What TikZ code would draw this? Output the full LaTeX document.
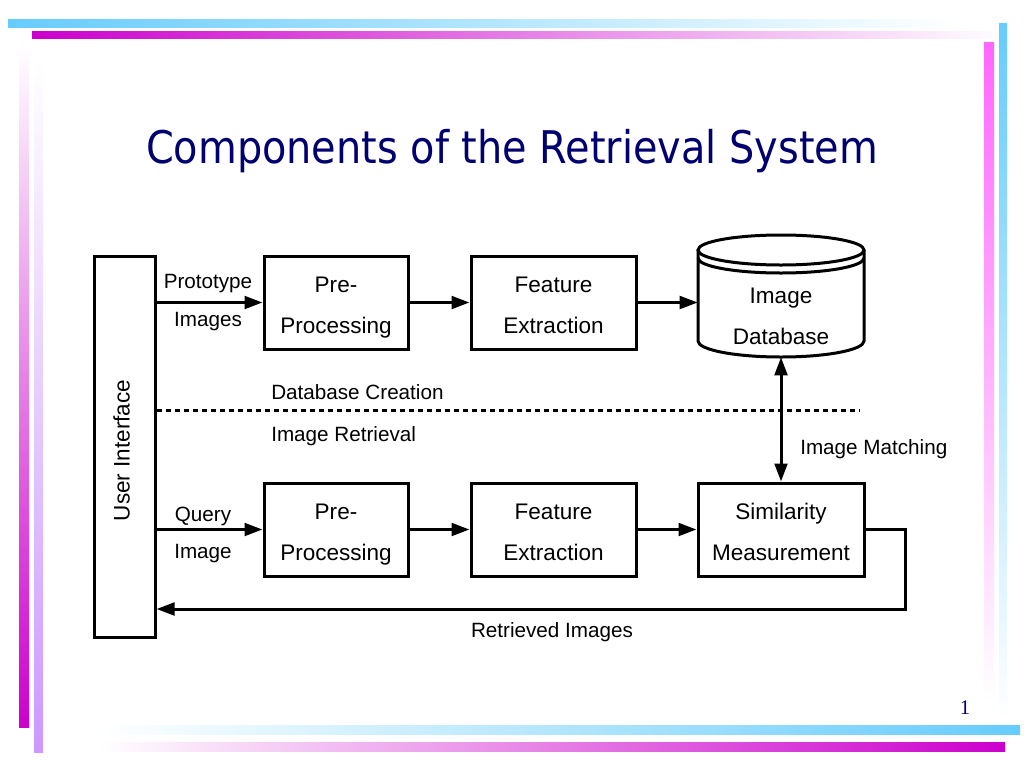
\documentclass[tikz,border=0pt]{standalone}
\usepackage{fontspec}
\setmainfont{Liberation Sans}
\newfontfamily\titlefont{DejaVu Sans}
\newfontfamily\numfont{Liberation Serif}
\usetikzlibrary{arrows.meta}
\definecolor{navyc}{RGB}{0,0,112}
\definecolor{cyanbar}{RGB}{102,204,255}
\definecolor{magbar}{RGB}{204,0,204}
\definecolor{pinkbar}{RGB}{255,102,255}
\definecolor{lavbar}{RGB}{204,153,255}
\newcommand\bxtop{\rule{0pt}{19.5pt}}
\newcommand\bxbot{\rule[-4pt]{0pt}{4pt}}
\tikzset{
  box/.style={draw, line width=2.25pt, inner sep=0pt, align=center,
    font=\fontsize{16.9}{30.75}\selectfont},
  lbl/.style={inner sep=0pt, font=\fontsize{15.5}{18}\selectfont},
  arr/.style={line width=2.25pt, -{Triangle[length=13.5pt,width=9.5pt]}},
  darr/.style={line width=2.25pt, {Triangle[length=13.5pt,width=9.5pt]}-{Triangle[length=13.5pt,width=9.5pt]}},
  cyl/.style={line width=2.25pt},
}
\begin{document}
\begin{tikzpicture}[x=0.75pt,y=-0.75pt]
\useasboundingbox (0,0) rectangle (1024,768);
\fill[white] (0,0) rectangle (1024,768);
% decorative bars
\shade[left color=cyanbar, right color=white] (8,19) rectangle (960,27);
\shade[left color=magbar, right color=white] (32,31) rectangle (1005,38);
\shade[top color=white, bottom color=magbar] (19,45) rectangle (29,727);
\shade[top color=white, bottom color=lavbar] (34,60) rectangle (43,752);
\shade[top color=pinkbar, bottom color=white] (984,42) rectangle (994,700);
\shade[top color=cyanbar, bottom color=white] (999,23) rectangle (1007,720);
\shade[left color=white, right color=cyanbar] (100,725) rectangle (1020,734);
\shade[left color=white, right color=magbar] (100,742) rectangle (1005,751);
% title and page number
\node[anchor=base, inner sep=0pt, text=navyc] (title) at (512,163)
  {\titlefont\fontsize{33.75}{40}\selectfont\scalebox{0.885}[1]{Components of the Retrieval System}};
\node[inner sep=0pt, text=navyc] (pnum) at (965,708) {\numfont\fontsize{15.5}{18}\selectfont 1};
% boxes
\node[box, minimum width=45.75pt, minimum height=285.75pt] (ui) at (124.5,446.5)
  {\rotatebox{90}{User Interface\hspace{6pt}\rule[-4.5pt]{0pt}{4.5pt}}};
\node[box, minimum width=108pt, minimum height=69.75pt] (pp1) at (336,302.5) {\bxtop Pre-\\Processing\bxbot};
\node[box, minimum width=123.75pt, minimum height=69.75pt] (fe1) at (553.5,302.5) {\bxtop Feature\\Extraction\bxbot};
\node[box, minimum width=108pt, minimum height=69.75pt] (pp2) at (336,529.5) {\bxtop Pre-\\Processing\bxbot};
\node[box, minimum width=123.75pt, minimum height=69.75pt] (fe2) at (553.5,529.5) {\bxtop Feature\\Extraction\bxbot};
\node[box, minimum width=124.5pt, minimum height=69.75pt] (sim) at (781,529.5) {\bxtop Similarity\\Measurement\bxbot};
% database cylinder
\node[inner sep=0pt, minimum width=124.5pt, minimum height=91.5pt] (db) at (781,296) {};
\draw[cyl, fill=white] (698,250) -- (698,341) arc[start angle=180, end angle=0, x radius=83, y radius=16]
  -- (864,250);
\draw[cyl] (781,250) ellipse[x radius=83, y radius=15];
\draw[cyl] (698,258) arc[start angle=180, end angle=0, x radius=83, y radius=15];
\node[inner sep=0pt, align=center, font=\fontsize{16.9}{30.75}\selectfont] (dbtext) at (781,316.5) {Image\\Database};
% connectors
\draw[arr] (ui.east |- pp1.west) -- (pp1.west);
\draw[arr] (fe1.west -| pp1.east) -- (fe1.west);
\draw[arr] (fe1.east) -- (db.west |- fe1.east);
\draw[arr] (ui.east |- pp2.west) -- (pp2.west);
\draw[arr] (pp2.east) -- (fe2.west);
\draw[arr] (fe2.east) -- (sim.west);
\draw[darr] (db.south) -- (sim.north);
\coordinate (fb) at (905,609);
\draw[arr] (sim.east) -| (fb) -- (ui.east |- fb);
% separator
\coordinate (dl) at (157,410);
\coordinate (dr) at (860,410);
\draw[line width=2.25pt, dash pattern=on 3.75pt off 3pt] (dl) -- (dr);
% labels
\node[lbl] (l1) at (208,284) {Prototype};
\node[lbl] (l2) at (208,322) {Images};
\node[lbl] (l3) at (203,516) {Query};
\node[lbl] (l4) at (203,554) {Image};
\node[lbl, anchor=west] (l5) at (271,392) {Database Creation};
\node[lbl, anchor=west] (l6) at (271,436) {Image Retrieval};
\node[lbl, anchor=west] (l7) at (800,449) {Image Matching};
\node[lbl] (l8) at (552,632) {Retrieved Images};
\end{tikzpicture}
\end{document}
